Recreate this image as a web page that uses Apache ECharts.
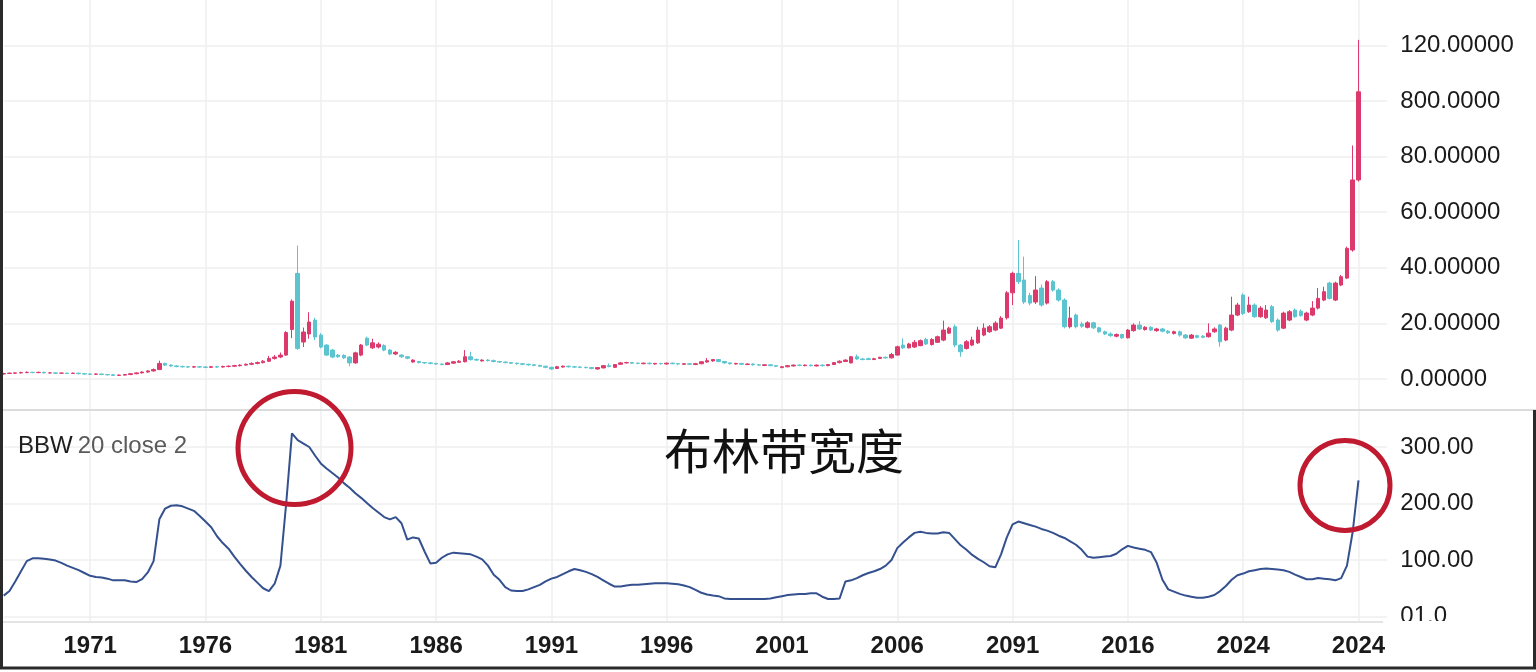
<!DOCTYPE html>
<html>
<head>
<meta charset="utf-8">
<script src="https://cdn.jsdelivr.net/npm/echarts@6/dist/echarts.min.js"></script>
<style>
html,body{margin:0;padding:0;background:#fff;}
#chart{width:1536px;height:672px;}
</style>
</head>
<body>
<div id="chart"></div>
<script>
// ---------- DATA ----------
// x-axis tick labels (as printed in the reference)
const xTickLabels = ['1971','1976','1981','1986','1991','1996','2001','2006','2091','2016','2024','2024'];
const xTickFirstIndex = 15;   // category index of the first labelled tick
const xTickStep = 20;         // categories (quarters) between labelled ticks
const priceTickLabels = ['0.00000','20.00000','40.00000','60.00000','80.00000','800.0000','120.00000'];
const bbwTickLabels = ['01.0','100.00','200.00','300.00'];
const bbwTitleMain = 'BBW';
const bbwTitleParams = '20 close 2';
const annotationText = '布林带宽度';

// quarterly candles: [open, close, low, high]
const candles = [
[1.8,2.0,1.6,2.2],[2.0,2.1,1.8,2.3],[2.1,2.2,1.9,2.4],[2.2,2.3,2.0,2.6],[2.3,2.4,2.1,2.7],
[2.4,2.3,2.1,2.6],[2.3,2.4,2.1,2.6],[2.4,2.2,2.0,2.6],[2.2,2.2,2.0,2.4],[2.2,2.1,1.9,2.4],
[2.1,2.1,1.9,2.3],[2.1,2.0,1.8,2.3],[2.0,2.1,1.8,2.3],[2.1,1.9,1.7,2.2],[1.9,1.8,1.6,2.1],
[1.8,1.7,1.5,2.0],[1.7,1.8,1.5,2.0],[1.8,1.6,1.4,1.9],[1.6,1.5,1.3,1.8],[1.5,1.3,1.1,1.7],
[1.3,1.4,1.1,1.6],[1.4,1.6,1.2,1.8],[1.6,1.9,1.4,2.1],[1.9,2.2,1.7,2.4],[2.2,2.5,2.0,2.8],
[2.5,2.9,2.3,3.2],[2.9,3.4,2.7,3.8],[3.4,5.6,3.2,6.6],[5.6,5.0,4.6,5.9],[5.0,4.7,4.4,5.3],
[4.7,4.5,4.2,5.0],[4.5,4.4,4.1,4.8],[4.4,4.3,4.0,4.7],[4.3,4.4,4.0,4.7],[4.4,4.3,4.0,4.6],
[4.3,4.2,3.9,4.6],[4.2,4.4,4.0,4.7],[4.4,4.3,4.0,4.7],[4.3,4.5,4.1,4.8],[4.5,4.6,4.2,4.9],
[4.6,4.8,4.3,5.1],[4.8,5.0,4.5,5.3],[5.0,5.3,4.8,5.6],[5.3,5.6,5.0,6.0],[5.6,5.9,5.3,6.3],
[5.9,6.4,5.6,6.8],[6.4,7.4,6.1,8.3],[7.4,7.9,7.0,8.6],[7.9,8.6,7.5,9.5],[8.6,16.7,8.3,17.2],
[17.8,28.0,14.7,28.6],[38.0,11.0,10.5,48.0],[13.3,16.9,11.5,18.5],[16.2,20.5,14.5,24.0],[21.2,15.1,14.0,22.0],
[15.8,11.5,11.0,16.5],[12.2,8.6,8.3,12.5],[10.4,7.9,7.5,10.8],[8.6,8.0,7.6,9.0],[8.5,7.6,7.2,8.9],
[7.9,5.8,4.6,8.2],[5.8,9.4,5.5,9.8],[8.6,12.2,8.2,12.6],[14.7,12.2,11.8,15.2],[11.2,13.0,10.8,14.5],
[11.5,12.5,11.0,13.2],[12.0,10.4,10.0,12.5],[10.4,9.0,8.6,10.8],[9.0,9.6,8.6,10.0],[8.6,8.0,7.6,8.9],
[8.0,7.5,7.1,8.3],[6.1,6.8,5.9,7.1],[6.3,5.9,5.6,6.5],[5.9,5.8,5.5,6.1],[5.8,5.6,5.3,6.0],
[5.6,5.4,5.1,5.8],[5.4,5.2,4.9,5.6],[5.2,5.8,5.0,6.1],[5.7,6.2,5.5,6.5],[6.0,6.4,5.8,6.8],
[6.2,8.0,6.0,10.4],[8.0,7.0,6.6,9.8],[7.0,6.8,6.5,7.4],[6.5,6.8,6.3,7.1],[6.8,6.6,6.3,7.2],
[6.6,6.3,6.0,7.0],[6.3,6.1,5.8,6.5],[6.1,5.9,5.6,6.3],[5.9,5.7,5.4,6.1],[5.7,5.5,5.2,5.9],
[5.5,5.3,5.0,5.7],[5.3,5.1,4.8,5.5],[5.1,4.9,4.6,5.3],[4.9,4.6,4.3,5.1],[4.6,4.2,3.9,4.8],
[4.2,3.6,3.3,4.4],[3.8,4.4,3.6,4.7],[4.3,4.6,4.1,4.9],[4.6,4.4,4.1,4.8],[4.4,4.3,4.0,4.6],
[4.3,4.2,3.9,4.5],[4.2,4.1,3.8,4.4],[4.1,3.8,3.5,4.3],[3.6,4.1,3.4,4.3],[4.0,4.8,3.8,5.0],
[4.8,4.5,4.2,5.6],[4.2,5.2,4.0,5.4],[5.3,5.8,5.1,6.1],[5.8,5.9,5.6,6.2],[5.9,5.7,5.4,6.1],
[5.7,5.6,5.3,5.9],[5.5,5.7,5.3,5.9],[5.7,5.5,5.2,5.9],[5.4,5.6,5.2,5.8],[5.6,5.5,5.2,5.8],
[5.4,5.7,5.2,5.9],[5.7,5.5,5.3,5.9],[5.5,5.4,5.1,5.7],[5.3,5.5,5.1,5.7],[5.5,5.3,5.0,5.7],
[5.2,5.5,5.0,5.8],[5.5,6.2,5.3,6.4],[6.1,6.6,5.9,7.5],[6.5,7.0,6.2,7.2],[7.0,6.3,6.0,7.2],
[6.3,5.8,5.5,6.5],[5.8,5.5,5.2,6.0],[5.4,5.6,5.2,5.8],[5.6,5.3,5.0,5.8],[5.2,5.4,5.0,5.6],
[5.4,5.1,4.8,5.6],[5.1,5.0,4.7,5.3],[4.9,5.1,4.7,5.3],[5.1,4.8,4.6,5.3],[4.8,4.6,4.4,5.0],
[4.1,4.4,3.9,4.6],[4.4,4.8,4.2,5.0],[4.7,5.0,4.5,5.2],[5.0,4.9,4.6,5.2],[4.8,5.0,4.6,5.2],
[5.0,4.8,4.5,5.2],[4.7,5.0,4.5,5.2],[5.0,4.8,4.5,5.2],[4.8,5.2,4.6,5.4],[5.2,5.9,5.0,6.1],
[5.9,6.4,5.6,6.7],[6.3,6.8,6.1,7.1],[5.8,8.0,5.6,8.3],[8.0,7.2,6.9,8.8],[7.2,7.0,6.7,7.6],
[7.3,7.0,6.8,7.7],[7.0,7.3,6.8,7.6],[7.4,7.8,7.2,8.0],[7.8,7.6,7.3,8.1],[7.6,8.8,7.4,9.4],
[8.6,11.6,8.4,12.0],[12.2,11.2,10.8,14.6],[11.2,12.6,11.0,13.0],[11.5,13.2,11.2,14.0],[12.0,13.8,11.8,14.2],
[14.2,12.6,12.2,14.8],[12.4,14.2,12.0,14.7],[13.2,15.2,13.0,15.6],[14.0,17.6,13.6,21.0],[16.5,18.3,16.2,18.8],
[18.8,12.2,11.4,19.6],[12.2,9.8,8.0,12.6],[11.0,13.4,10.6,14.0],[12.2,14.0,11.8,15.2],[13.0,17.6,12.6,18.8],
[15.8,18.3,15.4,20.0],[17.0,18.8,16.6,19.4],[17.6,20.1,17.2,20.8],[18.3,21.9,18.0,22.6],[22.0,31.0,21.4,31.6],
[31.0,38.0,26.6,38.6],[38.0,35.0,34.2,50.0],[35.6,27.7,27.0,44.0],[30.0,27.3,26.5,31.0],[27.7,32.0,27.0,37.0],
[32.7,26.6,26.0,34.0],[27.3,35.0,26.8,35.6],[35.0,32.0,31.4,35.6],[32.0,28.4,27.8,32.6],[28.4,18.8,18.2,29.0],
[18.8,21.9,18.2,26.0],[23.0,18.8,18.2,23.5],[19.8,19.0,18.4,20.6],[18.6,20.2,18.2,20.8],[20.2,18.4,18.0,20.6],
[18.4,17.0,16.6,18.8],[17.0,16.2,15.8,17.4],[16.2,15.6,15.2,16.8],[15.4,16.0,15.0,16.4],[16.0,14.8,14.4,16.3],
[14.8,17.6,14.6,18.0],[17.4,19.4,17.0,20.0],[19.4,18.0,17.6,20.8],[17.8,18.6,17.4,19.0],[18.6,17.6,17.2,19.0],
[17.4,18.0,17.0,18.4],[18.0,17.2,16.8,18.4],[17.2,16.6,16.2,17.6],[16.4,17.0,16.0,17.4],[17.0,15.8,15.2,17.4],
[15.8,14.8,14.4,16.2],[14.7,15.8,14.4,16.2],[15.6,15.0,14.6,15.9],[15.4,15.0,14.7,15.8],[15.2,16.5,14.9,20.0],
[17.0,18.0,16.6,18.6],[19.4,13.4,11.6,19.8],[14.0,18.3,13.6,18.8],[17.6,23.0,17.2,29.6],[23.0,26.6,22.6,27.4],
[30.2,23.6,23.0,30.8],[24.2,26.6,23.8,29.6],[26.6,22.4,22.0,27.2],[22.4,25.5,22.0,26.2],[22.0,24.8,21.6,26.6],
[26.0,20.6,20.2,26.6],[21.2,17.6,17.0,21.8],[18.3,23.7,18.0,24.2],[21.2,24.2,20.8,24.8],[24.8,22.4,22.0,25.4],
[24.4,22.8,22.4,25.0],[21.2,23.7,20.8,24.2],[23.0,25.5,22.6,28.0],[25.5,29.0,25.0,32.7],[28.4,31.4,28.0,33.2],
[34.5,29.0,28.6,35.0],[28.4,34.5,28.0,35.0],[33.8,36.8,33.4,37.4],[36.3,47.0,36.0,47.6],[46.4,71.6,45.8,84.0],
[71.6,103.3,71.0,122.0]
];

// Bollinger Band Width (20, close, 2), one value per quarter
const bbw = [
37,45,62,80,98,103,103,102,101,99,
95,90,86,82,77,72,70,69,67,64,
64,64,62,61,66,78,98,172,191,196,
197,195,191,187,178,168,158,142,130,120,
106,93,81,70,60,50,45,58,90,200,
324,312,306,300,285,271,262,254,246,236,
228,218,210,201,192,184,176,172,176,165,
136,140,138,115,94,95,104,110,113,112,
111,110,106,101,90,74,65,52,46,45,
45,48,52,56,62,67,70,75,80,84,
82,79,75,70,64,58,53,53,55,56,
56,57,58,59,59,59,58,57,55,52,
47,42,39,37,36,32,31,31,31,31,
31,31,31,32,34,36,38,39,40,40,
41,41,35,31,31,32,62,64,68,73,
77,80,84,90,100,121,131,140,148,150,
148,147,147,149,148,137,126,118,109,102,
96,89,87,110,140,163,168,165,162,159,
155,152,148,143,139,133,127,118,106,104,
105,106,107,111,119,125,122,120,118,114,
95,65,48,44,40,37,35,33,33,35,
38,45,54,65,73,76,80,82,84,85,
84,83,82,79,74,70,66,66,68,67,
66,64,68,90,150,241
];

// quarterly categories starting 1967 Q2 (241 slots, last few empty)
const categories = [];
for (let i = 0; i < 241; i++) {
  const q = i + 1;
  categories.push((1967 + Math.floor(q / 4)) + 'Q' + (q % 4 + 1));
}

// ---------- CHART ----------
const UP = '#dc3a6d', DOWN = '#5cc4cf';
const GRID_L = 3.7, GRID_R = 148.7;
const isTick = (idx) => idx >= xTickFirstIndex && (idx - xTickFirstIndex) % xTickStep === 0 &&
                        (idx - xTickFirstIndex) / xTickStep < xTickLabels.length;

const chart = echarts.init(document.getElementById('chart'), null, {renderer: 'canvas'});
const hiddenX = (gi) => ({
  type: 'category', gridIndex: gi, data: categories, boundaryGap: false,
  axisLine: {show: false}, axisTick: {show: false}, axisLabel: {show: false}, splitLine: {show: false}
});

chart.setOption({
  animation: false,
  backgroundColor: '#ffffff',
  title: [
    {
      text: '{a|' + bbwTitleMain + '} {b|' + bbwTitleParams + '}',
      left: 13, top: 429,
      textStyle: {
        fontWeight: 'normal',
        rich: {
          a: {fontFamily: 'Liberation Sans', fontSize: 24, fontWeight: 'normal', color: '#1e1e1e'},
          b: {fontFamily: 'Liberation Sans', fontSize: 24, fontWeight: 'normal', color: '#5a5a5a'}
        }
      }
    },
    {
      text: annotationText,
      left: 659, top: 422,
      textStyle: {fontFamily: 'Noto Sans CJK SC', fontSize: 48, fontWeight: 'normal', color: '#111111'}
    }
  ],
  grid: [
    {left: GRID_L, right: GRID_R, top: 45.4, height: 333.6},
    {left: GRID_L, right: GRID_R, top: 447, height: 169.5},
    {left: GRID_L, right: GRID_R, top: 0, height: 622}
  ],
  xAxis: [
    hiddenX(0),
    hiddenX(1),
    {
      type: 'category', gridIndex: 2, data: categories, boundaryGap: false,
      axisLine: {show: false}, axisTick: {show: false},
      splitLine: {show: true, interval: (idx) => isTick(idx), lineStyle: {color: '#efefef', width: 1.5}},
      axisLabel: {
        show: true, interval: (idx) => isTick(idx), margin: 12,
        formatter: (v, idx) => xTickLabels[(idx - xTickFirstIndex) / xTickStep],
        fontFamily: 'Liberation Sans', fontWeight: 'bold', fontSize: 24, color: '#1a1a1a'
      }
    }
  ],
  yAxis: [
    {
      type: 'value', gridIndex: 0, position: 'right', min: 0, max: 120, interval: 20,
      axisLine: {show: false}, axisTick: {show: false},
      splitLine: {show: true, lineStyle: {color: '#efefef', width: 1.5}},
      axisLabel: {
        margin: 13, align: 'left',
        formatter: (v) => priceTickLabels[Math.round(v / 20)],
        fontFamily: 'Liberation Sans', fontSize: 24, color: '#1a1a1a'
      }
    },
    {
      type: 'value', gridIndex: 1, position: 'right', min: 0, max: 300, interval: 100,
      axisLine: {show: false}, axisTick: {show: false},
      splitLine: {show: true, lineStyle: {color: '#efefef', width: 1.5}},
      axisLabel: {
        margin: 13, align: 'left',
        formatter: (v) => bbwTickLabels[Math.round(v / 100)],
        fontFamily: 'Liberation Sans', fontSize: 24, color: '#1a1a1a'
      }
    },
    {
      type: 'value', gridIndex: 2, min: 0, max: 1, show: false
    }
  ],
  series: [
    {
      type: 'candlestick', xAxisIndex: 0, yAxisIndex: 0, data: candles, clip: false,
      barWidth: 4,
      itemStyle: {color: UP, color0: DOWN, borderColor: UP, borderColor0: DOWN, borderWidth: 1}
    },
    {
      type: 'line', xAxisIndex: 1, yAxisIndex: 1, data: bbw, showSymbol: false, smooth: false,
      clip: false,
      lineStyle: {color: '#34508f', width: 2}
    }
  ],
  graphic: [
    {type: 'line', shape: {x1: 0, y1: 410, x2: 1536, y2: 410}, style: {stroke: '#dcdcdc', lineWidth: 2}, z: 5},
    {type: 'line', shape: {x1: 0, y1: 622, x2: 1383, y2: 622}, style: {stroke: '#e4e4e4', lineWidth: 2}, z: 5},
    {type: 'rect', shape: {x: 1390, y: 621, width: 138, height: 14}, style: {fill: '#ffffff'}, z: 50},
    {type: 'circle', shape: {cx: 294.5, cy: 448, r: 56.5}, style: {fill: 'none', stroke: '#bf1a30', lineWidth: 5}, z: 60},
    {type: 'circle', shape: {cx: 1345, cy: 485.5, r: 45}, style: {fill: 'none', stroke: '#bf1a30', lineWidth: 5}, z: 60},
    {type: 'polyline', shape: {points: [[1.5, 0], [1.5, 668], [1534.5, 668], [1534.5, 410]]},
     style: {fill: 'none', stroke: '#2a2a2a', lineWidth: 3}, z: 70}
  ]
});
</script>
</body>
</html>
